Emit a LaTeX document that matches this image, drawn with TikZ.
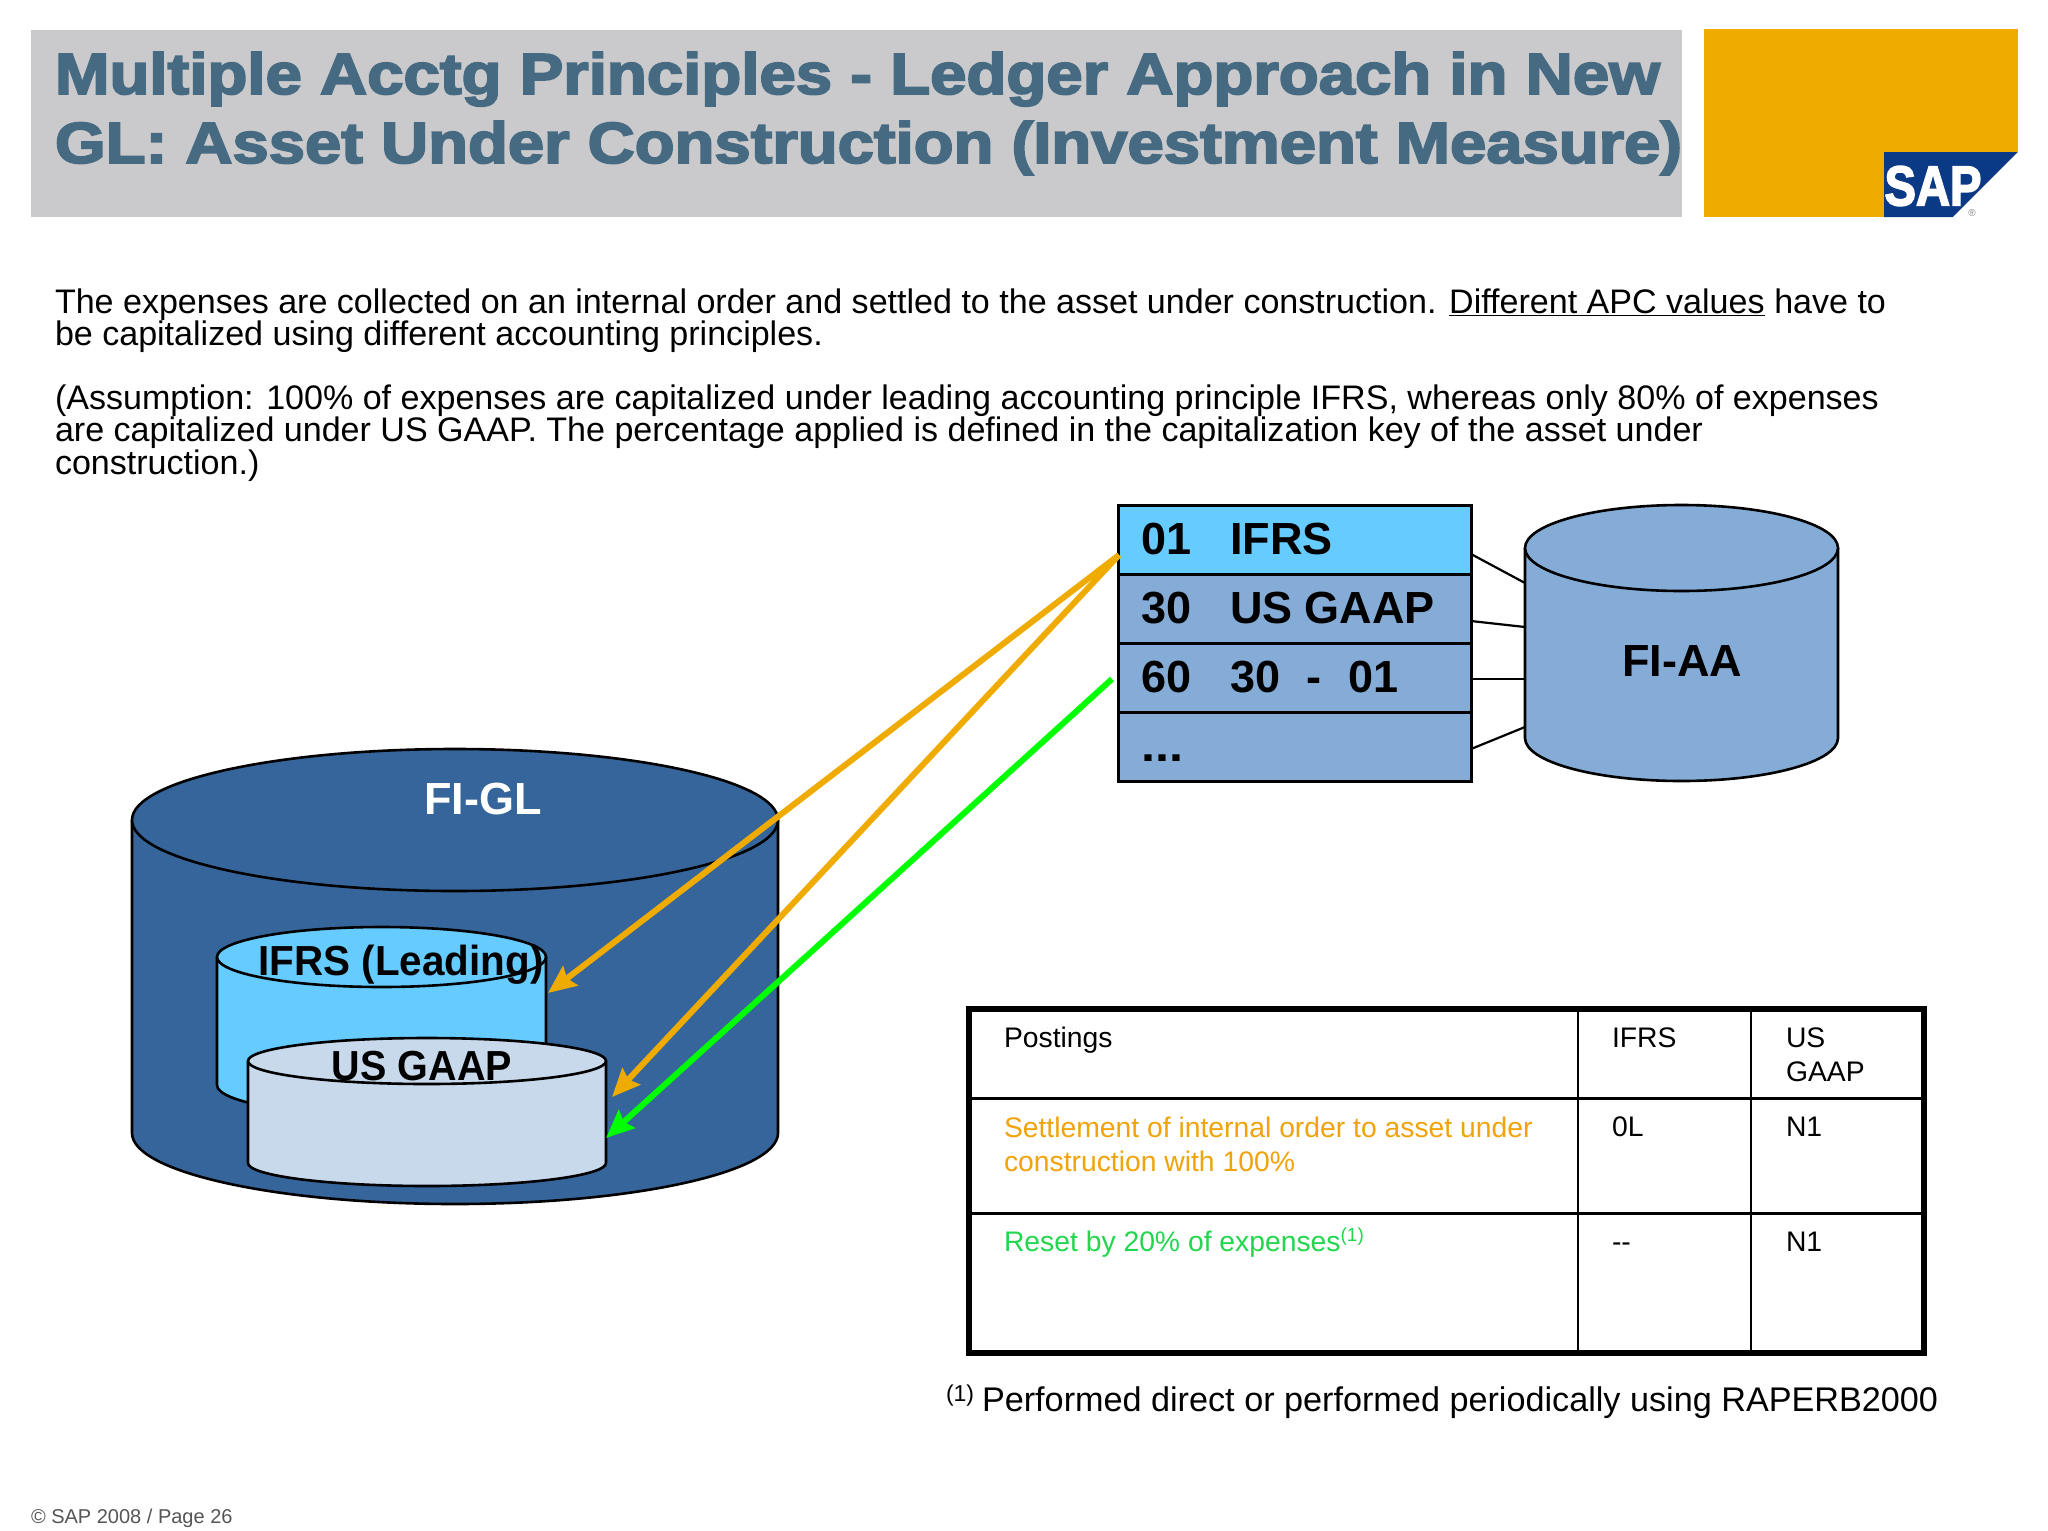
\documentclass[tikz,border=0pt]{standalone}
\usepackage{fontspec}
\usepackage{graphicx}
\setmainfont{Liberation Sans}
\newfontfamily\titlefont[BoldFeatures={FakeBold=3}]{Liberation Sans}
\usetikzlibrary{arrows.meta}
\definecolor{titlegray}{HTML}{CACACC}
\definecolor{titleblue}{HTML}{466A82}
\definecolor{sapgold}{HTML}{F0AB00}
\definecolor{sapblue}{HTML}{0A3A86}
\definecolor{darkcyl}{HTML}{35659A}
\definecolor{skycyl}{HTML}{66CCFF}
\definecolor{palecyl}{HTML}{C9D9EC}
\definecolor{midcyl}{HTML}{84ACD6}
\definecolor{arrowgreen}{HTML}{00FF00}
\definecolor{textgreen}{HTML}{22D64E}
\definecolor{textorange}{HTML}{F0A30A}
\definecolor{footgray}{HTML}{555555}
\newcommand{\fs}[2]{\fontsize{#1}{#2}\selectfont}
\newcommand{\fitw}[2]{\resizebox{#1}{\height}{#2}}
\newcommand{\cyl}[6]{% cx, rx, top centre y, ry, bottom centre y, fill
  \path[cylline,fill=#6] (#1-#2,#3) -- (#1-#2,#5) arc[start angle=180,end angle=0,x radius=#2,y radius=#4] -- (#1+#2,#3);
  \path[cylline,fill=#6] (#1,#3) ellipse[x radius=#2,y radius=#4];}
\tikzset{
  x=1pt,y=-1pt,
  cylline/.style={draw=black,line width=2.6pt},
  t/.style={inner sep=0pt,outer sep=0pt,anchor=base west,text=black},
  head/.style={t,font=\fs{58}{68}\titlefont\bfseries,text=titleblue},
  body/.style={t,font=\fs{34.05}{32.5},align=left},
  rowbox/.style={draw=black,line width=3pt,minimum width=353pt,minimum height=69pt,inner sep=0pt,outer sep=0pt,anchor=north west},
  rowtext/.style={t,font=\fs{45}{45}\bfseries},
  cyltext/.style={inner sep=0pt,font=\fs{45}{45}\bfseries,anchor=center},
  cell/.style={t,font=\fs{28.3}{34},align=left},
  link/.style={draw=black,line width=2.2pt},
  orangearrow/.style={draw=sapgold,line width=6pt,-{Stealth[length=28pt,width=24pt,inset=4pt]}},
  greenarrow/.style={draw=arrowgreen,line width=6pt,-{Stealth[length=28pt,width=24pt,inset=4pt]}},
  thickrule/.style={draw=black,line width=6.5pt},
  rowrule/.style={draw=black,line width=3pt},
  colrule/.style={draw=black,line width=2.2pt},
}
\begin{document}
\begin{tikzpicture}
\useasboundingbox (0,0) rectangle (2048,1531);
\fill[white] (0,0) rectangle (2048,1531);
% header
\fill[titlegray] (31,30) rectangle (1682,217);
\node[head] (h1) at (55,94) {\fitw{1605pt}{Multiple Acctg Principles - Ledger Approach in New}};
\node[head] (h2) at (55,163) {\fitw{1627pt}{GL: Asset Under Construction (Investment Measure)}};
\fill[sapgold] (1704,29) rectangle (2018,217);
\fill[sapblue] (1884,152) -- (2018,152) -- (1953,217) -- (1884,217) -- cycle;
\fill[white] (2018,152) -- (2018,217) -- (1953,217) -- cycle;
\node[inner sep=0pt,text=white,font=\fs{56}{56}\titlefont\bfseries] (sap) at (1933,186) {\fitw{97pt}{SAP}};
\node[inner sep=0pt,text=gray,font=\fs{10}{10}] (reg) at (1972,213) {®};
% intro text
\node[body] (intro) at (55,345.5) {The expenses are collected on an internal order and settled to the asset under construction. \underline{Different APC values} have to\\be capitalized using different accounting principles.};
\node[body] (assume) at (55,474) {(Assumption: 100\% of expenses are capitalized under leading accounting principle IFRS, whereas only 80\% of expenses\\are capitalized under US GAAP. The percentage applied is defined in the capitalization key of the asset under\\construction.)};
% ledger rows
\node[rowbox,fill=skycyl] (r1) at (1118,505) {};
\node[rowbox,fill=midcyl] (r2) at (1118,574) {};
\node[rowbox,fill=midcyl] (r3) at (1118,643) {};
\node[rowbox,fill=midcyl] (r4) at (1118,712) {};
\node[rowtext] (r1a) at (1141,554) {01};
\node[rowtext] (r1b) at (1230,554) {IFRS};
\node[rowtext] (r2a) at (1141,623) {30};
\node[rowtext] (r2b) at (1230,623) {US GAAP};
\node[rowtext] (r3a) at (1141,692) {60};
\node[rowtext] (r3b) at (1230,692) {30};
\node[rowtext] (r3c) at (1306,692) {-};
\node[rowtext] (r3d) at (1348,692) {01};
\node[rowtext] (r4a) at (1141,761) {\fitw{42pt}{...}};
% FI-AA
\cyl{1681.5}{156.5}{548}{43}{738}{midcyl}
\node[cyltext] (aa) at (1682,661) {FI-AA};
\coordinate (aa1) at (1525,583);
\coordinate (aa2) at (1525,627);
\coordinate (aa3) at (1525,679);
\coordinate (aa4) at (1525,727);
\coordinate (r1e) at (1471,554);
\coordinate (r2e) at (1471,621);
\coordinate (r3e) at (1471,679);
\coordinate (r4e) at (1471,749);
\draw[link] (r1e) -- (aa1);
\draw[link] (r2e) -- (aa2);
\draw[link] (r3e) -- (aa3);
\draw[link] (r4e) -- (aa4);
% FI-GL
\cyl{455}{323}{820}{71}{1133}{darkcyl}
\node[cyltext,text=white] (gl) at (483,799) {FI-GL};
\cyl{381.5}{164.5}{957}{30}{1085}{skycyl}
\node[cyltext,font=\fs{42}{42}\bfseries] (ifrs) at (401,965) {\fitw{285pt}{IFRS (Leading)}};
\cyl{427}{179}{1061}{23}{1163}{palecyl}
\node[cyltext,font=\fs{42}{42}\bfseries] (gaap) at (422,1066) {\fitw{180pt}{US GAAP}};
% arrows
\coordinate (src) at (1119,555);
\coordinate (src2) at (1112,679);
\coordinate (t1) at (548,993);
\coordinate (t2) at (612,1097);
\coordinate (t3) at (606,1138);
\draw[orangearrow] (src) -- (t1);
\draw[orangearrow] (src) -- (t2);
\draw[greenarrow] (src2) -- (t3);
% postings table
\draw[rowrule] (969,1098) -- (1924,1098);
\draw[rowrule] (969,1213) -- (1924,1213);
\draw[colrule] (1578,1009) -- (1578,1353);
\draw[colrule] (1751,1009) -- (1751,1353);
\draw[thickrule] (969,1009) rectangle (1924,1353);
\node[cell] (c11) at (1004,1047) {Postings};
\node[cell] (c12) at (1612,1047) {IFRS};
\node[cell] (c13) at (1786,1081) {US\\GAAP};
\node[cell,text=textorange] (c21) at (1004,1171) {Settlement of internal order to asset under\\construction with 100\%};
\node[cell] (c22) at (1612,1136) {0L};
\node[cell] (c23) at (1786,1136) {N1};
\node[cell,text=textgreen] (c31) at (1004,1251) {Reset by 20\% of expenses\raisebox{10pt}{\fs{19}{19}(1)}};
\node[cell] (c32) at (1612,1251) {{-}{-}};
\node[cell] (c33) at (1786,1251) {N1};
\node[t,font=\fs{23}{23}] (n0) at (946,1401) {(1)};
\node[t,font=\fs{34.2}{34}] (n1) at (982,1411) {Performed direct or performed periodically using RAPERB2000};
% footer
\node[t,font=\fs{20}{20},text=footgray] (foot) at (31,1523) {© SAP 2008 / Page 26};
\end{tikzpicture}
\end{document}
